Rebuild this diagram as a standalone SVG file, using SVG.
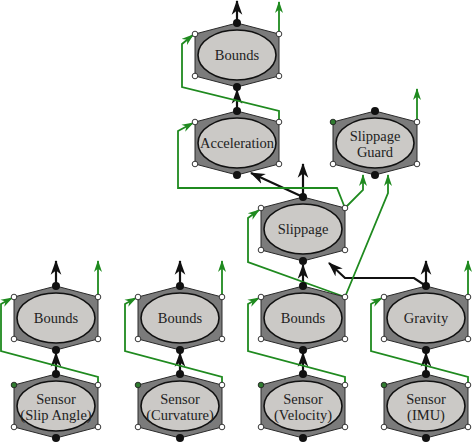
<svg xmlns="http://www.w3.org/2000/svg" xmlns:xlink="http://www.w3.org/1999/xlink" width="474" height="445" viewBox="0 0 474 445">
<defs>
<style>
.hex{fill:#7b7b7b;stroke:#2a2a2a;stroke-width:1}
.ell{fill:#cbc9c6;stroke:#111;stroke-width:1.6}
.lbl{font-family:"Liberation Serif","DejaVu Serif",serif;font-size:14.5px;fill:#222;text-anchor:middle}
.port{fill:#fff;stroke:#222;stroke-width:0.9}
.gport{fill:#2f7a2f;stroke:#222;stroke-width:0.9}
.dot{fill:#111}
.blk{fill:none;stroke:#111;stroke-width:2.2;marker-end:url(#ab)}
.grn{fill:none;stroke:#1f8a1f;stroke-width:1.8;marker-end:url(#ag)}
</style>
<marker id="ab" markerUnits="userSpaceOnUse" markerWidth="16" markerHeight="12" refX="13" refY="5" orient="auto" viewBox="0 0 15 10">
<path d="M0,0 L14,5 L0,10 L4,5 Z" fill="#111"/>
</marker>
<marker id="ag" markerUnits="userSpaceOnUse" markerWidth="13" markerHeight="10" refX="11" refY="4" orient="auto" viewBox="0 0 13 8">
<path d="M0,0 L12,4 L0,8 L3.5,4 Z" fill="#1f8a1f"/>
</marker>
<g id="node">
<path class="hex" d="M-42,-21 L0,-32 L42,-21 L42,21 L0,32 L-42,21 Z"/>
<ellipse class="ell" cx="0" cy="0" rx="39" ry="25"/>
<circle class="port" cx="42" cy="-21" r="2.8"/>
<circle class="port" cx="42" cy="21" r="2.8"/>
<circle class="port" cx="-42" cy="21" r="2.8"/>
<circle class="dot" cx="0" cy="-32" r="4"/>
<circle class="dot" cx="0" cy="32" r="4"/>
</g>
</defs>
<rect width="474" height="445" fill="#fff"/>

<g id="connectors">
<path class="blk" d="M237,23 L237,1"/>
<path class="blk" d="M237,111 L237,90"/>
<path class="blk" d="M303,197 L251,173"/>
<path class="blk" d="M303,197 L303,164"/>
<path class="blk" d="M56,286 L56,261"/>
<path class="blk" d="M180,286 L180,261"/>
<path class="blk" d="M303,286 L303,265"/>
<path class="blk" d="M426,286 L426,261"/>
<path class="blk" d="M426,286 L414,278 L345,278 L329,263"/>
<path class="blk" d="M56,374 L56,353"/>
<path class="blk" d="M180,374 L180,353"/>
<path class="blk" d="M303,374 L303,353"/>
<path class="blk" d="M426,374 L426,353"/>
<path class="grn" d="M279,34 L279,2"/>
<path class="grn" d="M279,122 L279,111 L182,87 L182,44 L193,35"/>
<path class="grn" d="M345,208 L337,188 L178,188 L178,131 L193,123"/>
<path class="grn" d="M345,208 L363,190 L363,175"/>
<path class="grn" d="M345,297 L388,193 L388,175"/>
<path class="grn" d="M345,297 L248,262 L248,218 L259,210"/>
<path class="grn" d="M417,122 L417,89"/>
<path class="grn" d="M98,297 L98,261"/>
<path class="grn" d="M222,297 L222,261"/>
<path class="grn" d="M468,297 L468,261"/>
<path class="grn" d="M98,385 L98,377 L1,351 L1,304 L12,298"/>
<path class="grn" d="M222,385 L222,377 L125,351 L125,304 L136,298"/>
<path class="grn" d="M345,385 L345,377 L248,351 L248,304 L259,298"/>
<path class="grn" d="M468,385 L468,377 L371,351 L371,304 L382,298"/>
</g>

<g id="n-bounds-top" transform="translate(237,55)">
<use xlink:href="#node"/><circle class="port" cx="-42" cy="-21" r="2.8"/>
<text class="lbl" x="0" y="5">Bounds</text>
</g>
<g id="n-acceleration" transform="translate(237,143)">
<use xlink:href="#node"/><circle class="port" cx="-42" cy="-21" r="2.8"/>
<text class="lbl" x="0" y="5">Acceleration</text>
</g>
<g id="n-slippage-guard" transform="translate(375,143)">
<use xlink:href="#node"/><circle class="gport" cx="-42" cy="-21" r="2.8"/>
<text class="lbl" x="0" y="-2">Slippage</text>
<text class="lbl" x="0" y="14">Guard</text>
</g>
<g id="n-slippage" transform="translate(303,229)">
<use xlink:href="#node"/><circle class="port" cx="-42" cy="-21" r="2.8"/>
<text class="lbl" x="0" y="5">Slippage</text>
</g>
<g id="n-bounds-1" transform="translate(56,318)">
<use xlink:href="#node"/><circle class="port" cx="-42" cy="-21" r="2.8"/>
<text class="lbl" x="0" y="5">Bounds</text>
</g>
<g id="n-bounds-2" transform="translate(180,318)">
<use xlink:href="#node"/><circle class="port" cx="-42" cy="-21" r="2.8"/>
<text class="lbl" x="0" y="5">Bounds</text>
</g>
<g id="n-bounds-3" transform="translate(303,318)">
<use xlink:href="#node"/><circle class="port" cx="-42" cy="-21" r="2.8"/>
<text class="lbl" x="0" y="5">Bounds</text>
</g>
<g id="n-gravity" transform="translate(426,318)">
<use xlink:href="#node"/><circle class="port" cx="-42" cy="-21" r="2.8"/>
<text class="lbl" x="0" y="5">Gravity</text>
</g>
<g id="n-sensor-slip" transform="translate(56,406)">
<use xlink:href="#node"/><circle class="gport" cx="-42" cy="-21" r="2.8"/>
<text class="lbl" x="0" y="-2">Sensor</text>
<text class="lbl" x="0" y="14">(Slip Angle)</text>
</g>
<g id="n-sensor-curv" transform="translate(180,406)">
<use xlink:href="#node"/><circle class="gport" cx="-42" cy="-21" r="2.8"/>
<text class="lbl" x="0" y="-2">Sensor</text>
<text class="lbl" x="0" y="14">(Curvature)</text>
</g>
<g id="n-sensor-vel" transform="translate(303,406)">
<use xlink:href="#node"/><circle class="gport" cx="-42" cy="-21" r="2.8"/>
<text class="lbl" x="0" y="-2">Sensor</text>
<text class="lbl" x="0" y="14">(Velocity)</text>
</g>
<g id="n-sensor-imu" transform="translate(426,406)">
<use xlink:href="#node"/><circle class="gport" cx="-42" cy="-21" r="2.8"/>
<text class="lbl" x="0" y="-2">Sensor</text>
<text class="lbl" x="0" y="14">(IMU)</text>
</g>
</svg>
